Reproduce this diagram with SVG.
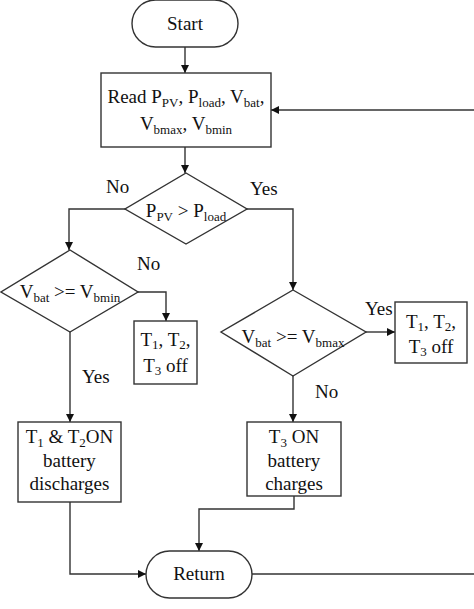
<svg xmlns="http://www.w3.org/2000/svg" width="474" height="609" viewBox="0 0 474 609">
<style>
.s{fill:#fff;stroke:#333;stroke-width:1.4}
.c{fill:none;stroke:#333;stroke-width:1.4}
text{font-family:"Liberation Serif","Times New Roman",serif;font-size:19px;fill:#111}
.m{text-anchor:middle}
.sub{font-size:13px}
</style>
<defs>
<marker id="ah" viewBox="0 0 10 10" refX="10" refY="5" markerWidth="8" markerHeight="8" markerUnits="userSpaceOnUse" orient="auto">
<path d="M0,0 L10,5 L0,10 z" fill="#111"/>
</marker>
</defs>
<g id="connectors">
<path class="c" d="M185,47 V73" marker-end="url(#ah)"/>
<path class="c" d="M185,147 V173" marker-end="url(#ah)"/>
<path class="c" d="M125,209 H69 V250" marker-end="url(#ah)"/>
<path class="c" d="M247,209 H293 V290" marker-end="url(#ah)"/>
<path class="c" d="M138,292 H166 V321" marker-end="url(#ah)"/>
<path class="c" d="M70,332 V422" marker-end="url(#ah)"/>
<path class="c" d="M366,332 H395" marker-end="url(#ah)"/>
<path class="c" d="M293,376 V422" marker-end="url(#ah)"/>
<path class="c" d="M70,502 V574 H146" marker-end="url(#ah)"/>
<path class="c" d="M294,496 V509 H199 V551" marker-end="url(#ah)"/>
<path class="c" d="M252,574 H474"/>
<path class="c" d="M474,110 H271" marker-end="url(#ah)"/>
<text x="106" y="193">No</text>
<text x="250" y="195">Yes</text>
<text x="137" y="270">No</text>
<text x="82" y="383">Yes</text>
<text x="365" y="315">Yes</text>
<text x="315" y="398">No</text>
</g>
<g id="start">
<rect class="s" x="132" y="0" width="106" height="47" rx="23.5"/>
<text class="m" x="185" y="30">Start</text>
</g>
<g id="read">
<rect class="s" x="101" y="73" width="170" height="74"/>
<text class="m" x="186" y="103">Read P<tspan class="sub" dy="4">PV</tspan><tspan dy="-4">, P</tspan><tspan class="sub" dy="4">load</tspan><tspan dy="-4">, V</tspan><tspan class="sub" dy="4">bat</tspan><tspan dy="-4">,</tspan></text>
<text class="m" x="186" y="130">V<tspan class="sub" dy="4">bmax</tspan><tspan dy="-4">, V</tspan><tspan class="sub" dy="4">bmin</tspan></text>
</g>
<g id="dec1">
<path class="s" d="M186,173 L247,209 L186,244 L125,209 z"/>
<text class="m" x="186" y="217">P<tspan class="sub" dy="4">PV</tspan><tspan dy="-4"> &gt; P</tspan><tspan class="sub" dy="4">load</tspan></text>
</g>
<g id="dec2">
<path class="s" d="M70,250 L138,292 L70,332 L1,292 z"/>
<text class="m" x="70" y="298">V<tspan class="sub" dy="4">bat</tspan><tspan dy="-4"> &gt;= V</tspan><tspan class="sub" dy="4">bmin</tspan></text>
</g>
<g id="off1">
<rect class="s" x="134" y="321" width="63" height="63"/>
<text class="m" x="165.5" y="346">T<tspan class="sub" dy="3">1</tspan><tspan dy="-3">, T</tspan><tspan class="sub" dy="3">2</tspan><tspan dy="-3">,</tspan></text>
<text class="m" x="165.5" y="372">T<tspan class="sub" dy="3">3</tspan><tspan dy="-3"> off</tspan></text>
</g>
<g id="dec3">
<path class="s" d="M293,290 L366,332 L293,376 L221,332 z"/>
<text class="m" x="293" y="343">V<tspan class="sub" dy="4">bat</tspan><tspan dy="-4"> &gt;= V</tspan><tspan class="sub" dy="4">bmax</tspan></text>
</g>
<g id="off2">
<rect class="s" x="395" y="302" width="72" height="61"/>
<text class="m" x="431" y="328">T<tspan class="sub" dy="3">1</tspan><tspan dy="-3">, T</tspan><tspan class="sub" dy="3">2</tspan><tspan dy="-3">,</tspan></text>
<text class="m" x="431" y="353">T<tspan class="sub" dy="3">3</tspan><tspan dy="-3"> off</tspan></text>
</g>
<g id="discharge">
<rect class="s" x="18" y="422" width="103" height="80"/>
<text class="m" x="69.5" y="443">T<tspan class="sub" dy="4">1</tspan><tspan dy="-4"> &amp; T</tspan><tspan class="sub" dy="4">2</tspan><tspan dy="-4">ON</tspan></text>
<text class="m" x="69.5" y="467">battery</text>
<text class="m" x="69.5" y="490">discharges</text>
</g>
<g id="charge">
<rect class="s" x="247" y="422" width="94" height="74"/>
<text class="m" x="294" y="443">T<tspan class="sub" dy="4">3</tspan><tspan dy="-4"> ON</tspan></text>
<text class="m" x="294" y="467">battery</text>
<text class="m" x="294" y="490">charges</text>
</g>
<g id="return">
<rect class="s" x="146" y="551" width="106" height="47" rx="23.5"/>
<text class="m" x="199" y="580">Return</text>
</g>
</svg>
